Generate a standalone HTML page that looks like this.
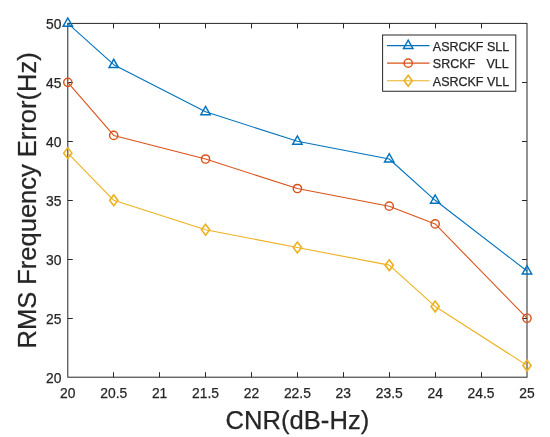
<!DOCTYPE html><html><head><meta charset="utf-8"><style>html,body{margin:0;padding:0;background:#fff;}svg{display:block;}text{font-family:"Liberation Sans",Arial,sans-serif;fill:#262626;stroke:#262626;stroke-width:0.25px;}</style></head><body>
<svg width="550" height="437" viewBox="0 0 550 437">
<rect width="550" height="437" fill="#fff"/>
<rect x="67.8" y="23.4" width="459.2" height="353.8" fill="none" stroke="#262626" stroke-width="1"/>
<text x="67.80" y="397.5" font-size="13.85" text-anchor="middle">20</text>
<path d="M113.50 377.2 V372.2 M113.50 23.4 V28.4" stroke="#262626" stroke-width="1" fill="none"/>
<text x="113.72" y="397.5" font-size="13.85" text-anchor="middle">20.5</text>
<path d="M159.50 377.2 V372.2 M159.50 23.4 V28.4" stroke="#262626" stroke-width="1" fill="none"/>
<text x="159.64" y="397.5" font-size="13.85" text-anchor="middle">21</text>
<path d="M205.50 377.2 V372.2 M205.50 23.4 V28.4" stroke="#262626" stroke-width="1" fill="none"/>
<text x="205.56" y="397.5" font-size="13.85" text-anchor="middle">21.5</text>
<path d="M251.50 377.2 V372.2 M251.50 23.4 V28.4" stroke="#262626" stroke-width="1" fill="none"/>
<text x="251.48" y="397.5" font-size="13.85" text-anchor="middle">22</text>
<path d="M297.50 377.2 V372.2 M297.50 23.4 V28.4" stroke="#262626" stroke-width="1" fill="none"/>
<text x="297.40" y="397.5" font-size="13.85" text-anchor="middle">22.5</text>
<path d="M343.50 377.2 V372.2 M343.50 23.4 V28.4" stroke="#262626" stroke-width="1" fill="none"/>
<text x="343.32" y="397.5" font-size="13.85" text-anchor="middle">23</text>
<path d="M389.50 377.2 V372.2 M389.50 23.4 V28.4" stroke="#262626" stroke-width="1" fill="none"/>
<text x="389.24" y="397.5" font-size="13.85" text-anchor="middle">23.5</text>
<path d="M435.50 377.2 V372.2 M435.50 23.4 V28.4" stroke="#262626" stroke-width="1" fill="none"/>
<text x="435.16" y="397.5" font-size="13.85" text-anchor="middle">24</text>
<path d="M481.50 377.2 V372.2 M481.50 23.4 V28.4" stroke="#262626" stroke-width="1" fill="none"/>
<text x="481.08" y="397.5" font-size="13.85" text-anchor="middle">24.5</text>
<text x="527.00" y="397.5" font-size="13.85" text-anchor="middle">25</text>
<text x="61.5" y="382.70" font-size="13.85" text-anchor="end">20</text>
<path d="M67.8 318.50 H72.8 M527.0 318.50 H522.0" stroke="#262626" stroke-width="1" fill="none"/>
<text x="61.5" y="323.73" font-size="13.85" text-anchor="end">25</text>
<path d="M67.8 259.50 H72.8 M527.0 259.50 H522.0" stroke="#262626" stroke-width="1" fill="none"/>
<text x="61.5" y="264.77" font-size="13.85" text-anchor="end">30</text>
<path d="M67.8 200.50 H72.8 M527.0 200.50 H522.0" stroke="#262626" stroke-width="1" fill="none"/>
<text x="61.5" y="205.80" font-size="13.85" text-anchor="end">35</text>
<path d="M67.8 141.50 H72.8 M527.0 141.50 H522.0" stroke="#262626" stroke-width="1" fill="none"/>
<text x="61.5" y="146.83" font-size="13.85" text-anchor="end">40</text>
<path d="M67.8 82.50 H72.8 M527.0 82.50 H522.0" stroke="#262626" stroke-width="1" fill="none"/>
<text x="61.5" y="87.87" font-size="13.85" text-anchor="end">45</text>
<text x="61.5" y="28.90" font-size="13.85" text-anchor="end">50</text>
<polyline points="67.80,23.40 113.72,64.68 205.56,111.85 297.40,141.33 389.24,159.02 435.16,200.30 527.00,271.06" fill="none" stroke="#0072BD" stroke-width="1.1" stroke-linejoin="round"/>
<path d="M63.10 26.31 L72.50 26.31 L67.80 17.99 Z" fill="none" stroke="#0072BD" stroke-width="1.45" stroke-linejoin="miter"/>
<path d="M109.02 67.59 L118.42 67.59 L113.72 59.27 Z" fill="none" stroke="#0072BD" stroke-width="1.45" stroke-linejoin="miter"/>
<path d="M200.86 114.76 L210.26 114.76 L205.56 106.44 Z" fill="none" stroke="#0072BD" stroke-width="1.45" stroke-linejoin="miter"/>
<path d="M292.70 144.25 L302.10 144.25 L297.40 135.93 Z" fill="none" stroke="#0072BD" stroke-width="1.45" stroke-linejoin="miter"/>
<path d="M384.54 161.94 L393.94 161.94 L389.24 153.62 Z" fill="none" stroke="#0072BD" stroke-width="1.45" stroke-linejoin="miter"/>
<path d="M430.46 203.21 L439.86 203.21 L435.16 194.89 Z" fill="none" stroke="#0072BD" stroke-width="1.45" stroke-linejoin="miter"/>
<path d="M522.30 273.97 L531.70 273.97 L527.00 265.66 Z" fill="none" stroke="#0072BD" stroke-width="1.45" stroke-linejoin="miter"/>
<polyline points="67.80,82.37 113.72,135.44 205.56,159.02 297.40,188.51 389.24,206.20 435.16,223.89 527.00,318.23" fill="none" stroke="#D95319" stroke-width="1.1" stroke-linejoin="round"/>
<circle cx="67.80" cy="82.37" r="4.1" fill="none" stroke="#D95319" stroke-width="1.45"/>
<circle cx="113.72" cy="135.44" r="4.1" fill="none" stroke="#D95319" stroke-width="1.45"/>
<circle cx="205.56" cy="159.02" r="4.1" fill="none" stroke="#D95319" stroke-width="1.45"/>
<circle cx="297.40" cy="188.51" r="4.1" fill="none" stroke="#D95319" stroke-width="1.45"/>
<circle cx="389.24" cy="206.20" r="4.1" fill="none" stroke="#D95319" stroke-width="1.45"/>
<circle cx="435.16" cy="223.89" r="4.1" fill="none" stroke="#D95319" stroke-width="1.45"/>
<circle cx="527.00" cy="318.23" r="4.1" fill="none" stroke="#D95319" stroke-width="1.45"/>
<polyline points="67.80,153.13 113.72,200.30 205.56,229.78 297.40,247.47 389.24,265.16 435.16,306.44 527.00,365.41" fill="none" stroke="#EDB120" stroke-width="1.1" stroke-linejoin="round"/>
<path d="M63.70 153.13 L67.80 147.73 L71.90 153.13 L67.80 158.53 Z" fill="none" stroke="#EDB120" stroke-width="1.6"/>
<path d="M109.62 200.30 L113.72 194.90 L117.82 200.30 L113.72 205.70 Z" fill="none" stroke="#EDB120" stroke-width="1.6"/>
<path d="M201.46 229.78 L205.56 224.38 L209.66 229.78 L205.56 235.18 Z" fill="none" stroke="#EDB120" stroke-width="1.6"/>
<path d="M293.30 247.47 L297.40 242.07 L301.50 247.47 L297.40 252.87 Z" fill="none" stroke="#EDB120" stroke-width="1.6"/>
<path d="M385.14 265.16 L389.24 259.76 L393.34 265.16 L389.24 270.56 Z" fill="none" stroke="#EDB120" stroke-width="1.6"/>
<path d="M431.06 306.44 L435.16 301.04 L439.26 306.44 L435.16 311.84 Z" fill="none" stroke="#EDB120" stroke-width="1.6"/>
<path d="M522.90 365.41 L527.00 360.01 L531.10 365.41 L527.00 370.81 Z" fill="none" stroke="#EDB120" stroke-width="1.6"/>
<rect x="382.6" y="35.0" width="133.2" height="56.25" fill="#fff" stroke="#262626" stroke-width="1"/>
<path d="M387 45.6 H429.5" stroke="#0072BD" stroke-width="1.1"/>
<path d="M403.50 48.51 L412.90 48.51 L408.20 40.20 Z" fill="none" stroke="#0072BD" stroke-width="1.45" stroke-linejoin="miter"/>
<text x="432.8" y="50.80" font-size="12.5" xml:space="preserve">ASRCKF SLL</text>
<path d="M387 63.150000000000006 H429.5" stroke="#D95319" stroke-width="1.1"/>
<circle cx="408.20" cy="63.15" r="4.1" fill="none" stroke="#D95319" stroke-width="1.45"/>
<text x="432.8" y="68.35" font-size="12.5" xml:space="preserve">SRCKF   <tspan dx="0.9">VLL</tspan></text>
<path d="M387 80.7 H429.5" stroke="#EDB120" stroke-width="1.1"/>
<path d="M404.10 80.70 L408.20 75.30 L412.30 80.70 L408.20 86.10 Z" fill="none" stroke="#EDB120" stroke-width="1.6"/>
<text x="432.8" y="85.90" font-size="12.5" xml:space="preserve">ASRCKF VLL</text>
<text x="297.40" y="428.5" font-size="25.6" text-anchor="middle">CNR(dB-Hz)</text>
<text transform="translate(35.6,200.40) rotate(-90)" font-size="25.5" text-anchor="middle">RMS Frequency Error(Hz)</text>
</svg></body></html>
